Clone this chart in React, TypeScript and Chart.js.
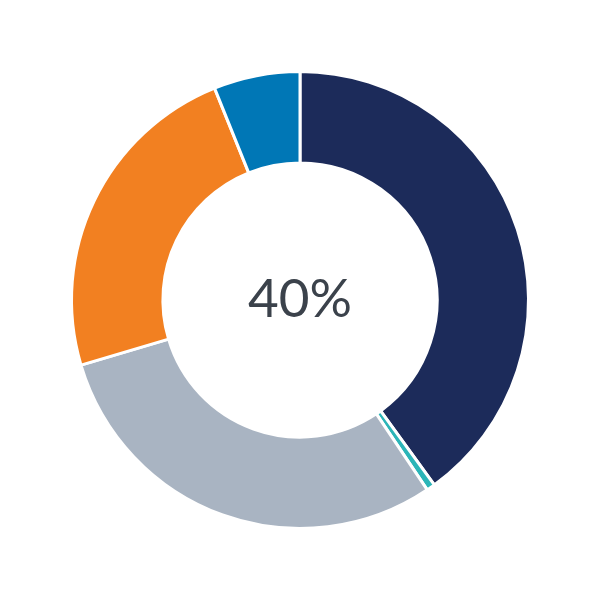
import { useEffect, useRef } from 'react';
import { Chart } from 'chart.js/auto';

const labels = ['Navy', 'Teal', 'Gray', 'Orange', 'Blue'];
const values = [40, 0.6, 29.8, 23.5, 6.1];
const colors = ['#1c2b5a', '#2bb5b8', '#a9b4c2', '#f28021', '#0077b6'];
const centerLabel = '40%';

const centerText = {
  id: 'centerText',
  afterDraw(chart: Chart) {
    const { ctx, chartArea } = chart;
    const cx = (chartArea.left + chartArea.right) / 2;
    const cy = (chartArea.top + chartArea.bottom) / 2;
    ctx.save();
    ctx.font = '400 53px Lato';
    ctx.fillStyle = '#3b424b';
    ctx.textAlign = 'center';
    ctx.textBaseline = 'middle';
    ctx.fillText(centerLabel, cx, cy);
    ctx.restore();
  },
};

export default function App() {
  const canvasRef = useRef<HTMLCanvasElement>(null);
  const chartRef = useRef<Chart | null>(null);

  useEffect(() => {
    if (!canvasRef.current) return;
    chartRef.current?.destroy();
    chartRef.current = new Chart(canvasRef.current, {
      type: 'doughnut',
      data: {
        labels,
        datasets: [{ data: values, backgroundColor: colors, borderColor: '#ffffff', borderWidth: 3 }],
      },
      options: {
        animation: false,
        responsive: true,
        maintainAspectRatio: false,
        cutout: '60%',
        layout: { padding: 70 },
        plugins: { legend: { display: false }, tooltip: { enabled: false } },
      },
      plugins: [centerText],
    });
    return () => chartRef.current?.destroy();
  }, []);

  return (
    <div style={{ position: 'fixed', left: 0, top: 0, width: 600, height: 600, background: '#fff' }}>
      <canvas ref={canvasRef} />
    </div>
  );
}
